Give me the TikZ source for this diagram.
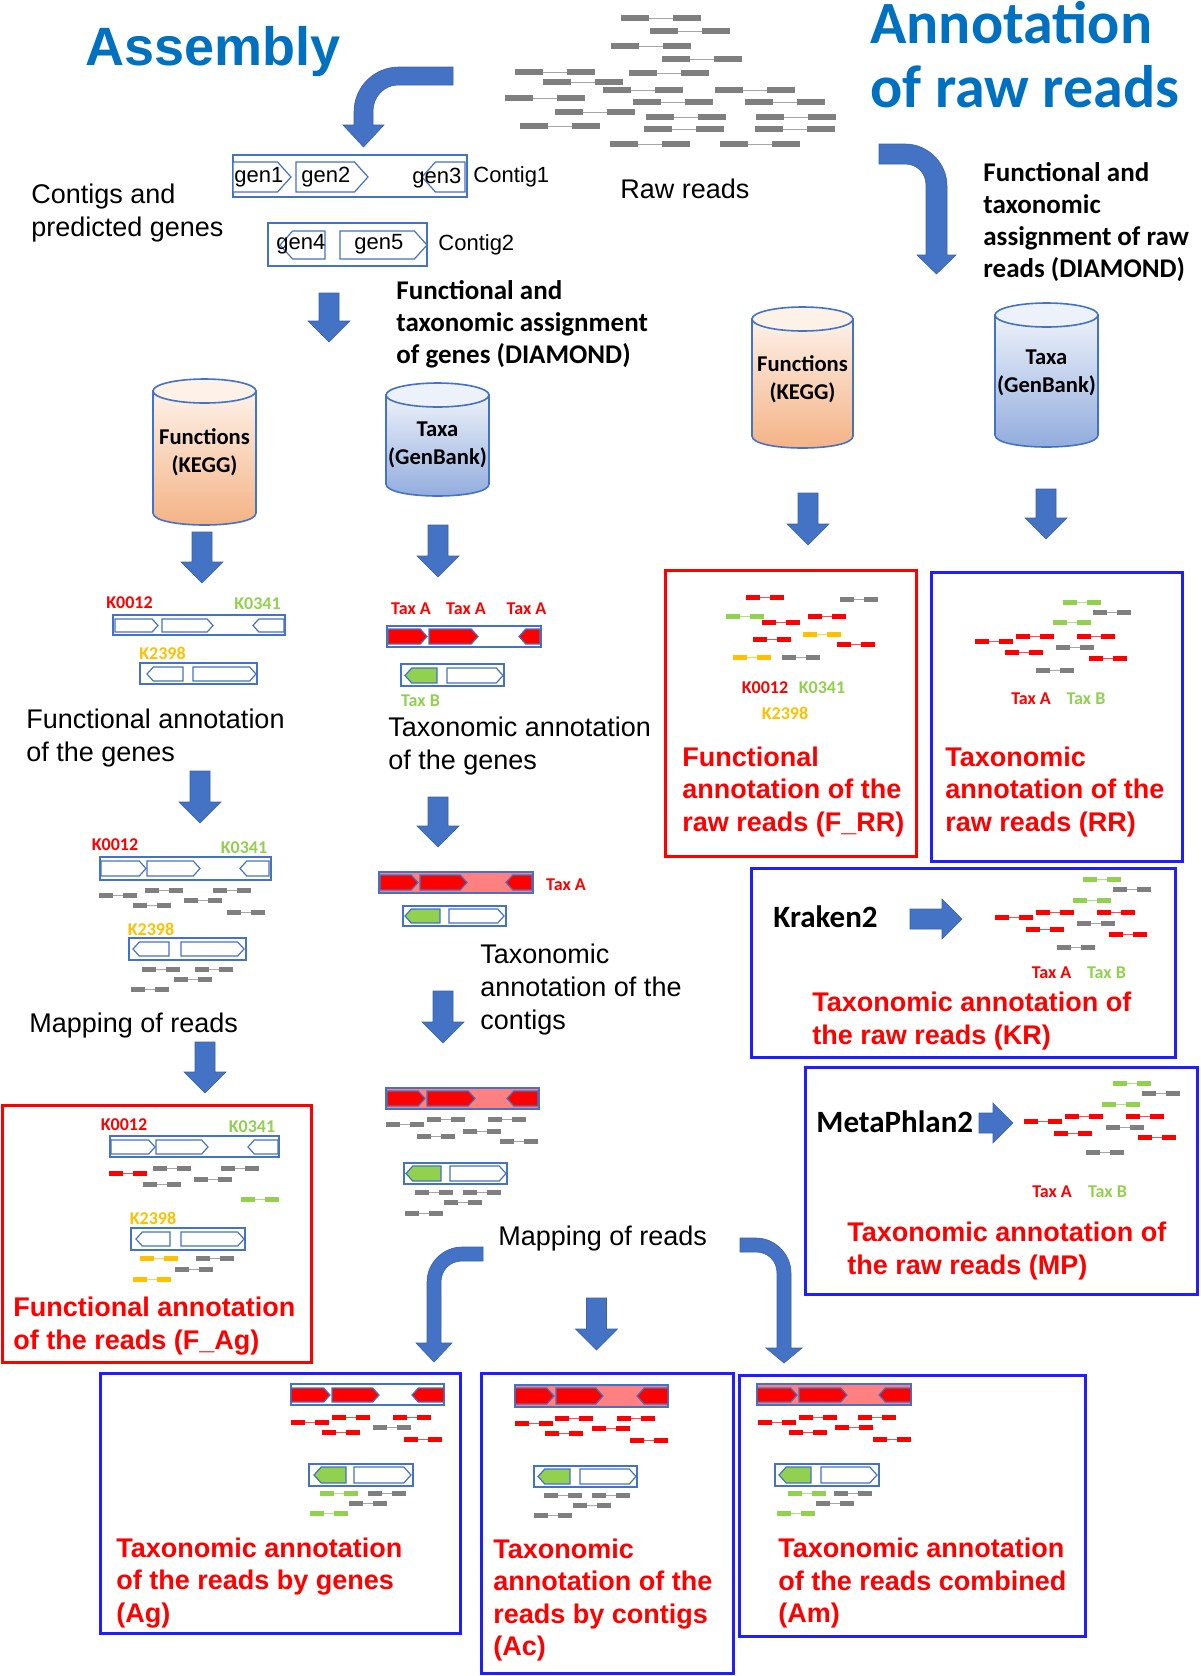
\documentclass[tikz,border=0pt]{standalone}
\usepackage{fontspec}
\setmainfont{Liberation Sans}
\newfontfamily\calfont{Carlito}

\definecolor{asblue}{HTML}{0070C0}
\definecolor{arblue}{HTML}{4472C4}
\definecolor{rdred}{HTML}{FF0000}
\definecolor{rdgreen}{HTML}{92D050}
\definecolor{rdyellow}{HTML}{FFC000}
\definecolor{rdgray}{HTML}{7F7F7F}
\definecolor{ctred}{HTML}{FF8080}
\definecolor{bxblue}{HTML}{1E1EFF}
\definecolor{orgtop}{HTML}{FDF1E8}
\definecolor{orgbot}{HTML}{F4B183}
\definecolor{blutop}{HTML}{EDF2FA}
\definecolor{blubot}{HTML}{8FAADC}

\tikzset{
  lbl/.style={inner sep=0pt, font=\fontsize{13.5}{16.5}\selectfont, align=left, anchor=west},
  boxtxt/.style={inner sep=0pt, text=rdred, font=\bfseries\fontsize{13.5}{16.3}\selectfont, align=left, anchor=west},
  boldlbl/.style={inner sep=0pt, font=\calfont\bfseries\fontsize{13.5}{16}\selectfont, align=left, anchor=west},
  tag/.style={inner sep=0pt, font=\calfont\bfseries\fontsize{9}{10}\selectfont},
  dbtxt/.style={inner sep=0pt, font=\calfont\bfseries\fontsize{11.3}{14}\selectfont, align=center},
  genlbl/.style={inner sep=0pt, font=\fontsize{11}{13}\selectfont, anchor=base west},
  contig/.style={draw=arblue, line width=0.8pt},
  gene/.style={draw=arblue, line width=0.6pt},
  barrow/.style={fill=arblue, draw=arblue!85!black, line width=0.3pt},
  redbox/.style={draw=rdred, line width=1.5pt},
  bluebox/.style={draw=bxblue, line width=1.5pt},
}

% gene pointing right: x1, x2 (tip), y1, y2, fill
\newcommand{\gener}[5]{%
  \pgfmathsetmacro{\gt}{0.45*(#4-#3)}
  \draw[gene, fill=#5] (#1,#3) -- ({#2-\gt},#3) -- (#2,{(#3+#4)/2}) -- ({#2-\gt},#4) -- (#1,#4) -- cycle;}
% gene pointing left: x1 (tip), x2, y1, y2, fill
\newcommand{\genel}[5]{%
  \pgfmathsetmacro{\gt}{0.45*(#4-#3)}
  \draw[gene, fill=#5] (#2,#3) -- ({#1+\gt},#3) -- (#1,{(#3+#4)/2}) -- ({#1+\gt},#4) -- (#2,#4) -- cycle;}
% small read pair: left x, y, colour
\newcommand{\rdpair}[3]{%
  \fill[#3] (#1,{#2-2.5}) rectangle ++(14,5);
  \fill[#3] ({#1+24},{#2-2.5}) rectangle ++(14,5);
  \draw[#3!70, line width=0.4pt] ({#1+14},#2) -- ++(10,0);}
% raw read pair: left x, y
\newcommand{\bigpair}[2]{%
  \fill[rdgray] (#1,{#2-3}) rectangle ++(28,6);
  \fill[rdgray] ({#1+52},{#2-3}) rectangle ++(28,6);
  \draw[rdgray!70, line width=0.4pt] ({#1+28},#2) -- ++(24,0);}
% block arrow down: x, top, tip
\newcommand{\darr}[3]{%
  \draw[barrow] ({#1-10},#2) -- ({#1+10},#2) -- ({#1+10},{#3-21}) -- ({#1+21},{#3-21})
    -- (#1,#3) -- ({#1-21},{#3-21}) -- ({#1-10},{#3-21}) -- cycle;}
% block arrow right: left, tip, y
\newcommand{\rarr}[3]{%
  \draw[barrow] (#1,{#3-10}) -- ({#2-20},{#3-10}) -- ({#2-20},{#3-20}) -- (#2,#3)
    -- ({#2-20},{#3+20}) -- ({#2-20},{#3+10}) -- (#1,{#3+10}) -- cycle;}
% database: x1, x2, top, bottom, top colour, bottom colour
\newcommand{\dbcyl}[6]{%
  \pgfmathsetmacro{\cxm}{(#1+#2)/2}
  \pgfmathsetmacro{\crx}{(#2-#1)/4}
  \shadedraw[top color=#5, bottom color=#6, draw=arblue, line width=0.8pt]
    (#1,{#3+12}) -- (#1,{#4-12}) .. controls (#1,{#4+4}) and (#2,{#4+4}) .. (#2,{#4-12}) -- (#2,{#3+12}) -- cycle;
  \draw[arblue, line width=0.8pt, fill=#5] (\cxm,{#3+12}) ellipse [x radius=\crx pt, y radius=6pt];}

\begin{document}
\begin{tikzpicture}[x=0.5pt, y=-0.5pt]
  \fill[white] (0,0) rectangle (1200,1676);
  \useasboundingbox (0,0) rectangle (1200,1676);

  % Titles
  \node[anchor=base, inner sep=0pt, text=asblue, font=\bfseries\fontsize{27}{30}\selectfont] (assembly) at (213,65) {Assembly};
  \node[anchor=base west, inner sep=0pt, text=asblue, font=\calfont\bfseries\fontsize{30}{32}\selectfont] (annota) at (870,43) {Annotation};
  \node[anchor=base west, inner sep=0pt, text=asblue, font=\calfont\bfseries\fontsize{30}{32}\selectfont] (annotb) at (870,107) {of raw reads};

  % Raw reads
  \foreach \x/\y in {621/18, 650/31, 611/46, 662/59, 629/73, 515/72, 543/82, 603/90, 715/90, 505/98,
                     633/102, 745/102, 555/112, 646/117, 756/117, 520/126, 644/129, 755/129, 610/144, 720/144}
    {\bigpair{\x}{\y}}
  \node[lbl, anchor=base west] (rawlbl) at (620,198) {Raw reads};

  % Curved arrows from the raw reads
  \draw[barrow] (453,67) -- (399,67) .. controls (374,67) and (354,87) .. (354,112) -- (354,125) -- (343,125)
    -- (363.5,147) -- (384,125) -- (373,125) -- (373,111) .. controls (373,97) and (384,85) .. (398,85) -- (453,85) -- cycle;
  \draw[barrow] (879,144) -- (905,144) .. controls (928,144) and (947,163) .. (947,186) -- (947,255) -- (956,255)
    -- (936.5,274) -- (917,255) -- (926,255) -- (926,185) .. controls (926,173) and (917,164) .. (905,164) -- (879,164) -- cycle;

  % Contigs and predicted genes
  \draw[contig] (233,155) rectangle (467,197);
  \gener{233}{291}{162}{192}{white}
  \gener{296}{368}{162}{192}{white}
  \genel{422}{465}{162}{192}{white}
  \draw[contig] (268,223) rectangle (427,266);
  \genel{280}{325}{231}{259}{white}
  \gener{340}{427}{231}{259}{white}
  \node[genlbl] (gen1) at (234,182) {gen1};
  \node[genlbl] (gen2) at (301,182) {gen2};
  \node[genlbl] (gen3) at (412,183) {gen3};
  \node[genlbl] (gen4) at (276,249) {gen4};
  \node[genlbl] (gen5) at (354,249) {gen5};
  \node[genlbl] (contiga) at (473,182) {Contig1};
  \node[genlbl] (contigb) at (438,250) {Contig2};
  \node[lbl] (contiglbl) at (31,213) {Contigs and\\predicted genes};

  \darr{329}{293}{342}
  \node[boldlbl] (assigngenes) at (396,324) {Functional and\\taxonomic assignment\\of genes (DIAMOND)};
  \node[boldlbl] (assignraw) at (983,222) {Functional and\\taxonomic\\assignment of raw\\reads (DIAMOND)};

  % Databases
  \dbcyl{153}{256}{379}{525}{orgtop}{orgbot}
  \dbcyl{386}{489}{383}{496}{blutop}{blubot}
  \dbcyl{752}{853}{307}{448}{orgtop}{orgbot}
  \dbcyl{995}{1098}{303}{447}{blutop}{blubot}
  \node[dbtxt] (keggl) at (204.5,452) {Functions\\(KEGG)};
  \node[dbtxt] (taxal) at (437.5,445) {Taxa\\(GenBank)};
  \node[dbtxt] (keggr) at (802.5,379) {Functions\\(KEGG)};
  \node[dbtxt] (taxar) at (1046.5,373) {Taxa\\(GenBank)};
  \darr{202}{532}{583}
  \darr{438}{525}{577}
  \darr{808}{493}{545}
  \darr{1046}{489}{539}

  % Functional annotation of the genes
  \draw[contig] (113,615) rectangle (285,635);
  \gener{115}{158}{619}{632}{white}
  \gener{162}{213}{619}{632}{white}
  \genel{253}{284}{619}{632}{white}
  \draw[contig] (140,663) rectangle (257,684);
  \genel{147}{183}{667}{681}{white}
  \gener{193}{256}{667}{681}{white}
  \node[tag, text=rdred] (fga) at (129.5,603) {K0012};
  \node[tag, text=rdgreen] (fgb) at (257.5,604) {K0341};
  \node[tag, text=rdyellow] (fgc) at (162.5,653) {K2398};
  \node[lbl] (fgenes) at (26,738) {Functional annotation\\of the genes};
  \darr{200}{771}{823}

  % Taxonomic annotation of the genes
  \draw[contig] (387,626) rectangle (541,647);
  \gener{388}{427}{629}{644}{rdred}
  \gener{429}{478}{629}{644}{rdred}
  \genel{519}{540}{629}{644}{rdred}
  \draw[contig] (401,664) rectangle (504,686);
  \genel{405}{437}{668}{683}{rdgreen}
  \gener{447}{503}{668}{683}{white}
  \node[tag, text=rdred] (tga) at (411,609) {Tax A};
  \node[tag, text=rdred] (tgb) at (466,609) {Tax A};
  \node[tag, text=rdred] (tgc) at (526.5,609) {Tax A};
  \node[tag, text=rdgreen] (tgd) at (420.5,701) {Tax B};
  \node[lbl] (tgenes) at (388,746) {Taxonomic annotation\\of the genes};
  \darr{438}{797}{847}

  % Mapping of reads on the genes
  \draw[contig] (100,857) rectangle (271,880);
  \gener{101}{146}{861}{876}{white}
  \gener{147}{200}{861}{876}{white}
  \genel{240}{269}{861}{876}{white}
  \foreach \x/\y in {145/890, 213/890, 99/895, 184/900, 133/905, 227/912, 142/969, 195/969, 174/979, 131/989}
    {\rdpair{\x}{\y}{rdgray}}
  \draw[contig] (129,938) rectangle (246,960);
  \genel{133}{169}{942}{956}{white}
  \gener{181}{244}{942}{956}{white}
  \node[tag, text=rdred] (mga) at (115,845) {K0012};
  \node[tag, text=rdgreen] (mgb) at (244,848) {K0341};
  \node[tag, text=rdyellow] (mgc) at (151,929) {K2398};
  \node[lbl, anchor=base west] (mapgenes) at (29,1032) {Mapping of reads};
  \darr{205}{1042}{1093}

  % Taxonomic annotation of the contigs
  \draw[contig, fill=ctred] (379,872) rectangle (533,893);
  \gener{380}{418}{875}{890}{rdred}
  \gener{420}{467}{875}{890}{rdred}
  \genel{506}{532}{875}{890}{rdred}
  \draw[contig] (403,906) rectangle (506,926);
  \genel{405}{440}{909}{923}{rdgreen}
  \gener{449}{504}{909}{923}{white}
  \node[tag, text=rdred] (tca) at (566,885) {Tax A};
  \node[lbl] (tcontigs) at (480,990) {Taxonomic\\annotation of the\\contigs};
  \darr{443}{991}{1043}

  % Mapping of reads on the contigs
  \draw[contig, fill=ctred] (386,1088) rectangle (539,1109);
  \gener{387}{425}{1091}{1106}{rdred}
  \gener{427}{475}{1091}{1106}{rdred}
  \genel{507}{538}{1091}{1106}{rdred}
  \foreach \x/\y in {427/1119, 488/1119, 386/1124, 463/1131, 417/1136, 500/1141, 415/1192, 463/1192, 444/1202, 405/1213}
    {\rdpair{\x}{\y}{rdgray}}
  \draw[contig] (404,1163) rectangle (507,1184);
  \genel{406}{441}{1166}{1181}{rdgreen}
  \gener{450}{506}{1166}{1181}{white}
  \node[lbl, anchor=base west] (mapcontigs) at (498,1245) {Mapping of reads};
  \draw[barrow] (483,1247) -- (462,1247) .. controls (443,1247) and (427,1263) .. (427,1282) -- (427,1343) -- (416,1343)
    -- (434,1362) -- (452,1343) -- (441,1343) -- (441,1282) .. controls (441,1270) and (450,1261) .. (462,1261) -- (483,1261) -- cycle;
  \darr{596.5}{1298}{1350}
  \draw[barrow] (740,1238) -- (756,1238) .. controls (775,1238) and (791,1254) .. (791,1273) -- (791,1348) -- (802,1348)
    -- (784,1363) -- (766,1348) -- (777,1348) -- (777,1273) .. controls (777,1261) and (768,1252) .. (756,1252) -- (740,1252) -- cycle;

  % F_Ag
  \draw[redbox] (2,1105) rectangle (311,1362);
  \draw[contig] (110,1136) rectangle (279,1157);
  \gener{111}{155}{1140}{1154}{white}
  \gener{156}{208}{1140}{1154}{white}
  \genel{248}{278}{1140}{1154}{white}
  \foreach \x/\y/\c in {153/1168/rdgray, 221/1168/rdgray, 109/1173/rdred, 194/1179/rdgray, 143/1184/rdgray,
                        241/1199/rdgreen, 140/1258/rdyellow, 196/1258/rdgray, 175/1269/rdgray, 133/1279/rdyellow}
    {\rdpair{\x}{\y}{\c}}
  \draw[contig] (131,1228) rectangle (245,1250);
  \genel{136}{170}{1232}{1246}{white}
  \gener{181}{244}{1232}{1246}{white}
  \node[tag, text=rdred] (faga) at (124,1125) {K0012};
  \node[tag, text=rdgreen] (fagb) at (252,1127) {K0341};
  \node[tag, text=rdyellow] (fagc) at (153,1218) {K2398};
  \node[boxtxt] (fagtxt) at (13,1326) {Functional annotation\\of the reads (F\_Ag)};

  % F_RR
  \draw[redbox] (665,570) rectangle (916,856);
  \foreach \x/\y/\c in {746/597/rdred, 840/599/rdgray, 726/616/rdgreen, 808/616/rdred, 762/622/rdred,
                        803/634/rdyellow, 753/639/rdred, 837/644/rdred, 733/657/rdyellow, 782/657/rdgray}
    {\rdpair{\x}{\y}{\c}}
  \node[tag, text=rdred] (frra) at (765,688) {K0012};
  \node[tag, text=rdgreen] (frrb) at (822,688) {K0341};
  \node[tag, text=rdyellow] (frrc) at (785,713) {K2398};
  \node[boxtxt] (frrtxt) at (682,792) {Functional\\annotation of the\\raw reads (F\_RR)};

  % RR
  \draw[bluebox] (931,572) rectangle (1182,861);
  \foreach \x/\y/\c in {1063/602/rdgreen, 1093/612/rdgray, 1053/622/rdgreen, 1016/636/rdred, 1077/636/rdred,
                        975/641/rdred, 1056/647/rdgray, 1005/652/rdred, 1089/658/rdred, 1036/670/rdgray}
    {\rdpair{\x}{\y}{\c}}
  \node[tag, text=rdred] (rra) at (1031,699) {Tax A};
  \node[tag, text=rdgreen] (rrb) at (1086,699) {Tax B};
  \node[boxtxt] (rrtxt) at (945,792) {Taxonomic\\annotation of the\\raw reads (RR)};

  % KR
  \draw[bluebox] (751,868) rectangle (1175,1057);
  \node[anchor=west, inner sep=0pt, font=\calfont\bfseries\fontsize{15.5}{18}\selectfont] (kraken) at (773,917) {Kraken2};
  \rarr{910}{962}{919}
  \foreach \x/\y/\c in {1083/879/rdgreen, 1113/889/rdgray, 1073/900/rdgreen, 1036/912/rdred, 1097/912/rdred,
                        995/917/rdred, 1077/923/rdgray, 1026/929/rdred, 1109/934/rdred, 1057/947/rdgray}
    {\rdpair{\x}{\y}{\c}}
  \node[tag, text=rdred] (kra) at (1051.5,973) {Tax A};
  \node[tag, text=rdgreen] (krb) at (1106.5,973) {Tax B};
  \node[boxtxt] (krtxt) at (812,1021) {Taxonomic annotation of\\the raw reads (KR)};

  % MP
  \draw[bluebox] (805,1067) rectangle (1197,1294);
  \node[anchor=west, inner sep=0pt, font=\calfont\bfseries\fontsize{15.5}{18}\selectfont] (metaphlan) at (816,1122) {MetaPhlan2};
  \rarr{979}{1013}{1123}
  \foreach \x/\y/\c in {1113/1083/rdgreen, 1142/1093/rdgray, 1102/1104/rdgreen, 1065/1116/rdred, 1126/1116/rdred,
                        1024/1121/rdred, 1106/1127/rdgray, 1054/1133/rdred, 1138/1137/rdred, 1086/1152/rdgray}
    {\rdpair{\x}{\y}{\c}}
  \node[tag, text=rdred] (mpa) at (1052,1192) {Tax A};
  \node[tag, text=rdgreen] (mpb) at (1107.5,1192) {Tax B};
  \node[boxtxt] (mptxt) at (847,1251) {Taxonomic annotation of\\the raw reads (MP)};

  % Ag
  \draw[bluebox] (100,1373) rectangle (460,1633);
  \draw[contig, fill=white] (291,1384) rectangle (444,1405);
  \gener{291}{330}{1388}{1402}{rdred}
  \gener{332}{379}{1388}{1402}{rdred}
  \genel{412}{444}{1388}{1402}{rdred}
  \draw[contig] (309,1464) rectangle (413,1486);
  \genel{314}{346}{1467}{1483}{rdgreen}
  \gener{354}{411}{1467}{1483}{white}
  \foreach \x/\y/\c in {332/1417/rdred, 393/1417/rdred, 291/1422/rdred, 373/1427/rdgray, 322/1432/rdred,
                        404/1439/rdred, 320/1493/rdgreen, 368/1493/rdgray, 349/1503/rdgray, 310/1513/rdgreen}
    {\rdpair{\x}{\y}{\c}}
  \node[boxtxt] (agtxt) at (116,1583) {Taxonomic annotation\\of the reads by genes\\(Ag)};

  % Ac
  \draw[bluebox] (481,1373) rectangle (733,1673);
  \draw[contig, fill=ctred] (515,1385) rectangle (668,1407);
  \gener{515}{554}{1388}{1404}{rdred}
  \gener{556}{603}{1388}{1404}{rdred}
  \genel{637}{668}{1388}{1404}{rdred}
  \draw[contig] (534,1466) rectangle (637,1487);
  \genel{538}{570}{1469}{1484}{rdgreen}
  \gener{580}{636}{1469}{1484}{white}
  \foreach \x/\y/\c in {555/1418/rdred, 617/1418/rdred, 515/1423/rdred, 592/1428/rdred, 545/1433/rdred,
                        630/1440/rdred, 544/1495/rdgray, 592/1495/rdgray, 573/1505/rdgray, 534/1515/rdgray}
    {\rdpair{\x}{\y}{\c}}
  \node[boxtxt] (actxt) at (493,1600) {Taxonomic\\annotation of the\\reads by contigs\\(Ac)};

  % Am
  \draw[bluebox] (739,1375) rectangle (1085,1636);
  \draw[contig, fill=ctred] (757,1384) rectangle (911,1405);
  \gener{757}{797}{1388}{1402}{rdred}
  \gener{799}{847}{1388}{1402}{rdred}
  \genel{879}{911}{1388}{1402}{rdred}
  \draw[contig] (775,1464) rectangle (879,1486);
  \genel{779}{811}{1467}{1483}{rdgreen}
  \gener{821}{877}{1467}{1483}{white}
  \foreach \x/\y/\c in {799/1417/rdred, 858/1417/rdred, 758/1422/rdred, 835/1427/rdred, 789/1432/rdred,
                        873/1439/rdred, 788/1493/rdgreen, 834/1493/rdgray, 816/1503/rdgray, 777/1513/rdgreen}
    {\rdpair{\x}{\y}{\c}}
  \node[boxtxt] (amtxt) at (778,1583) {Taxonomic annotation\\of the reads combined\\(Am)};
\end{tikzpicture}
\end{document}
